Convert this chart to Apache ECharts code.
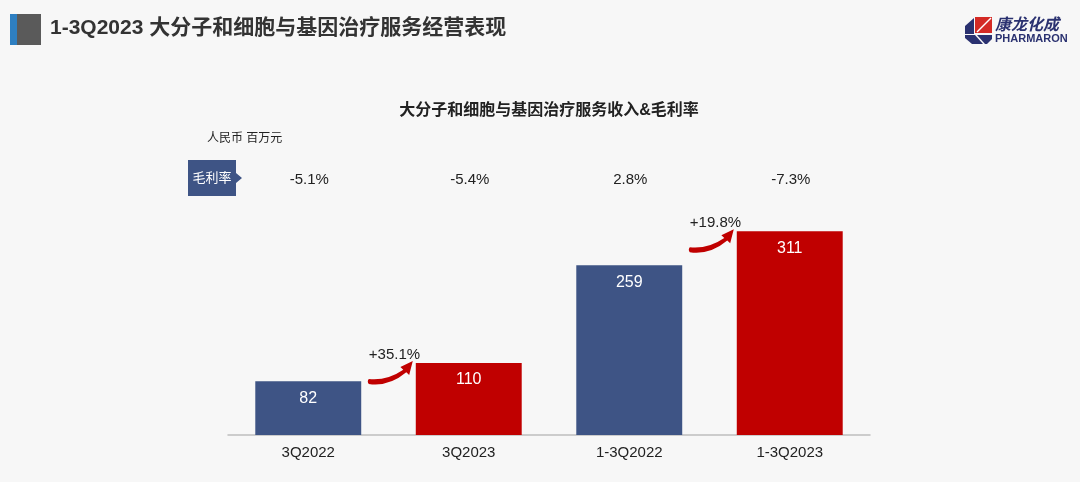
<!DOCTYPE html>
<html><head><meta charset="utf-8">
<script src="https://cdn.jsdelivr.net/npm/echarts@6/dist/echarts.min.js"></script>
<style>html,body{margin:0;padding:0;background:#f7f7f7;}#c{width:1080px;height:482px;}</style>
</head><body><div id="c"></div>
<script>
const categories = ['3Q2022', '3Q2023', '1-3Q2022', '1-3Q2023'];
const revenue = [82, 110, 259, 311];
const grossMargin = ['-5.1%', '-5.4%', '2.8%', '-7.3%'];
const growth = [[0, 1, '+35.1%'], [2, 3, '+19.8%']];
const barColors = ['#3e5485', '#c00000', '#3e5485', '#c00000'];

const FONT = '"Liberation Sans","Noto Sans CJK SC",sans-serif';
const chart = echarts.init(document.getElementById('c'));

function arrowPath(){
  return 'M0,-2 Q18,0 34.5,-11.3 L31.6,-14 L44,-20 L40.4,-6 L37.5,-8.7 Q20,6 0,3 Q-2,0.5 0,-2 Z';
}

chart.setOption({
  backgroundColor: '#f7f7f7',
  animation: false,
  grid: {left: 228, right: 210, top: 173, bottom: 47},
  xAxis: {
    type: 'category', data: categories,
    axisLine: {lineStyle: {color: '#bfbfbf', width: 1.5}},
    axisTick: {show: false},
    axisLabel: {color: '#222', fontSize: 15, fontFamily: FONT, margin: 10}
  },
  yAxis: {type: 'value', min: 0, max: 400, show: false, splitLine: {show: false}},
  series: [
    {
      type: 'bar', barWidth: '66%',
      data: revenue.map((v, i) => ({value: v, itemStyle: {color: barColors[i]}})),
      label: {show: true, position: 'insideTop', distance: 9, color: '#fff', fontSize: 16, fontFamily: FONT}
    },
    {
      type: 'custom', coordinateSystem: 'cartesian2d', silent: true,
      data: grossMargin.map((m, i) => [i, 0, m]),
      renderItem: function(params, api){
        const p = api.coord([api.value(0), 0]);
        return {type: 'text', style: {x: p[0] + 1, y: 180, text: grossMargin[params.dataIndex], fill: '#222',
          font: '15px ' + FONT, textAlign: 'center', textVerticalAlign: 'middle'}};
      }
    },
    {
      type: 'custom', coordinateSystem: 'cartesian2d', silent: true,
      data: growth.map(g => [g[1], revenue[g[1]]]),
      renderItem: function(params, api){
        const g = growth[params.dataIndex];
        const p = api.coord([g[1], revenue[g[1]]]);
        const bw = api.size([1, 0])[0] * 0.66;
        const tipX = p[0] - bw / 2 - 3, tipY = p[1] - 2;
        const sx = tipX - 44, sy = tipY + 20;
        return {type: 'group', children: [
          {type: 'path', x: sx, y: sy, shape: {pathData: arrowPath()}, style: {fill: '#c00000'}},
          {type: 'text', style: {x: sx, y: tipY - 6, text: g[2], fill: '#222', font: '15px ' + FONT,
            textAlign: 'left', textVerticalAlign: 'middle'}}
        ]};
      }
    }
  ],
  graphic: [
    {type: 'rect', shape: {x: 10, y: 14, width: 7, height: 31}, style: {fill: '#2e7fc1'}},
    {type: 'rect', shape: {x: 17, y: 14, width: 24, height: 31}, style: {fill: '#5a5a5a'}},
    {type: 'text', style: {x: 50, y: 28, text: '1-3Q2023 大分子和细胞与基因治疗服务经营表现', fill: '#333',
      font: 'bold 21px ' + FONT, textVerticalAlign: 'middle'}},
    {type: 'text', style: {x: 549, y: 111, text: '大分子和细胞与基因治疗服务收入&毛利率', fill: '#222',
      font: 'bold 16px ' + FONT, textAlign: 'center', textVerticalAlign: 'middle'}},
    {type: 'text', style: {x: 207, y: 139, text: '人民币 百万元', fill: '#222',
      font: '12px ' + FONT, textVerticalAlign: 'middle'}},
    {type: 'polygon', shape: {points: [[188,160],[236,160],[236,173],[242,178],[236,183],[236,196],[188,196]]},
      style: {fill: '#3e5485'}},
    {type: 'text', style: {x: 212, y: 178, text: '毛利率', fill: '#fff', font: '13px ' + FONT,
      textAlign: 'center', textVerticalAlign: 'middle'}},
    // logo
    {type: 'polygon', shape: {points: [[975,17],[992,17],[992,33],[975,33]]}, style: {fill: '#d42a25'}},
    {type: 'polyline', shape: {points: [[977,32],[991,18]]}, style: {stroke: '#fff', lineWidth: 1.5}},
    {type: 'polygon', shape: {points: [[965,26],[974,18],[974,34],[965,34]]}, style: {fill: '#2a3170'}},
    {type: 'polygon', shape: {points: [[965,35],[975,35],[983,44],[972,44],[965,38]]}, style: {fill: '#2a3170'}},
    {type: 'polygon', shape: {points: [[977,35],[992,35],[992,39],[987,44],[985,44]]}, style: {fill: '#2a3170'}},
    {type: 'text', style: {x: 995, y: 24, text: '康龙化成', fill: '#2a3170',
      font: 'italic bold 16px "Noto Sans CJK SC",sans-serif', textVerticalAlign: 'middle'}},
    {type: 'text', style: {x: 995, y: 39, text: 'PHARMARON', fill: '#2a3170',
      font: 'bold 11px "Liberation Sans Narrow","Liberation Sans",sans-serif', textVerticalAlign: 'middle'}}
  ]
});
</script></body></html>
